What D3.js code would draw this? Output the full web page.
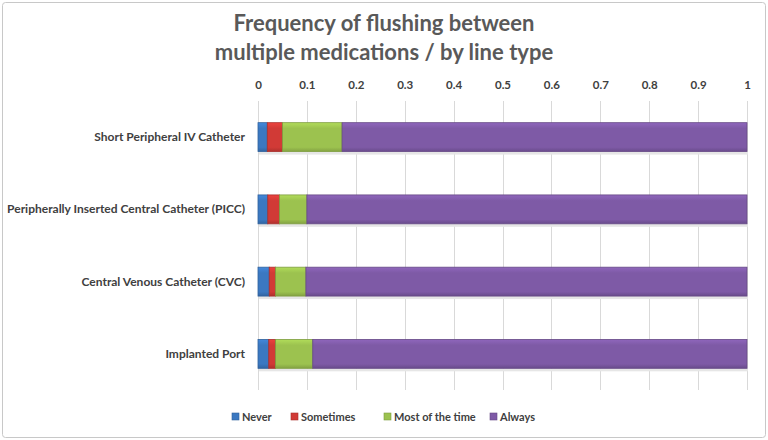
<!DOCTYPE html>
<html>
<head>
<meta charset="utf-8">
<script src="https://cdn.jsdelivr.net/npm/d3@7"></script>
<style>
  body { margin: 0; background: #fff; }
  svg text { font-family: Lato, "Open Sans", sans-serif; }
</style>
</head>
<body>
<svg id="chart" width="768" height="440"></svg>
<script>
// data
var categories = ["Short Peripheral IV Catheter", "Peripherally Inserted Central Catheter (PICC)",
                  "Central Venous Catheter (CVC)", "Implanted Port"];
var seriesNames = ["Never", "Sometimes", "Most of the time", "Always"];
var never     = [0.019, 0.020, 0.023, 0.022];
var sometimes = [0.031, 0.024, 0.013, 0.014];
var mostTime  = [0.122, 0.056, 0.062, 0.076];
var always    = [0.828, 0.900, 0.902, 0.888];
var tickValues = [0, 0.1, 0.2, 0.3, 0.4, 0.5, 0.6, 0.7, 0.8, 0.9, 1];
var colors = ["#3b78c1", "#d13a36", "#9cc24f", "#7e5aa6"];

var svg = d3.select("#chart");
var W = 768, H = 440;
var margin = {top: 101, right: 21, bottom: 50, left: 258};

// chart frame
svg.append("rect")
    .attr("x", 2.5).attr("y", 2.5).attr("width", W - 5).attr("height", H - 5)
    .attr("rx", 3)
    .attr("fill", "#fff").attr("stroke", "#c8c8c8");

var defs = svg.append("defs");
colors.forEach(function(c, i) {
    var g = defs.append("linearGradient").attr("id", "grad" + i)
        .attr("x1", 0).attr("y1", 0).attr("x2", 0).attr("y2", 1);
    var base = d3.color(c);
    g.append("stop").attr("offset", "0%").attr("stop-color", base.brighter(0.35));
    g.append("stop").attr("offset", "20%").attr("stop-color", base);
    g.append("stop").attr("offset", "85%").attr("stop-color", base);
    g.append("stop").attr("offset", "100%").attr("stop-color", base.darker(0.5));
});

// title
var title = svg.append("text")
    .attr("x", 384).attr("text-anchor", "middle")
    .attr("font-size", 22).attr("font-weight", "bold").attr("fill", "#595959");
title.append("tspan").attr("x", 384).attr("y", 31).text("Frequency of flushing between");
title.append("tspan").attr("x", 384).attr("y", 60).text("multiple medications / by line type");

var x = d3.scaleLinear().domain([0, 1]).range([margin.left, W - margin.right]);
var y = d3.scaleBand().domain(categories).range([margin.top, H - margin.bottom]).paddingInner(0.6).paddingOuter(0.3);

// gridlines
svg.append("g").selectAll("line").data(tickValues).join("line")
    .attr("x1", function(d) { return Math.round(x(d)) + 0.5; })
    .attr("x2", function(d) { return Math.round(x(d)) + 0.5; })
    .attr("y1", margin.top).attr("y2", H - margin.bottom)
    .attr("stroke", "#d9d9d9");

// top axis labels
var xAxis = d3.axisTop(x).tickValues(tickValues).tickSize(0).tickPadding(0)
    .tickFormat(function(d) { return d3.format("")(+d.toFixed(1)); });
var gx = svg.append("g").attr("transform", "translate(0," + 89 + ")").call(xAxis);
gx.select(".domain").remove();
gx.selectAll("text").attr("font-size", 11.5).attr("font-weight", "bold").attr("fill", "#404040")
    .style("font-family", "Lato, sans-serif");

// category labels
svg.append("g").selectAll("text").data(categories).join("text")
    .attr("x", 245)
    .attr("y", function(d) { return y(d) + y.bandwidth() / 2 + 4; })
    .attr("text-anchor", "end")
    .attr("font-size", 12).attr("font-weight", "bold").attr("fill", "#404040")
    .text(function(d) { return d; });

// stacked bars
var rows = categories.map(function(c, i) {
    return {cat: c, Never: never[i], Sometimes: sometimes[i], "Most of the time": mostTime[i], Always: always[i]};
});
var stacked = d3.stack().keys(seriesNames)(rows);

// soft shadow under bars
svg.append("g").selectAll("rect").data(rows).join("rect")
    .attr("x", x(0) + 1).attr("y", function(d) { return y(d.cat) + y.bandwidth(); })
    .attr("width", x(1) - x(0)).attr("height", 3)
    .attr("fill", "#e6e6e6");

svg.append("g").selectAll("g").data(stacked).join("g")
    .attr("fill", function(d, i) { return "url(#grad" + i + ")"; })
    .attr("stroke", function(d, i) { return d3.color(colors[i]).darker(0.6); })
    .attr("stroke-width", 0.8)
    .selectAll("rect").data(function(d) { return d; }).join("rect")
    .attr("x", function(d) { return x(d[0]); })
    .attr("y", function(d) { return y(d.data.cat); })
    .attr("width", function(d) { return x(d[1]) - x(d[0]); })
    .attr("height", y.bandwidth());

// legend
var legendX = [232, 291, 384, 490];
var lg = svg.append("g").selectAll("g").data(seriesNames).join("g")
    .attr("transform", function(d, i) { return "translate(" + legendX[i] + ",413)"; });
lg.append("rect").attr("width", 7).attr("height", 7)
    .attr("fill", function(d, i) { return colors[i]; })
    .attr("stroke", function(d, i) { return d3.color(colors[i]).darker(0.6); })
    .attr("stroke-width", 0.6);
lg.append("text").attr("x", 10).attr("y", 7.5)
    .attr("font-size", 11).attr("font-weight", "bold").attr("fill", "#404040")
    .text(function(d) { return d; });
</script>
</body>
</html>
